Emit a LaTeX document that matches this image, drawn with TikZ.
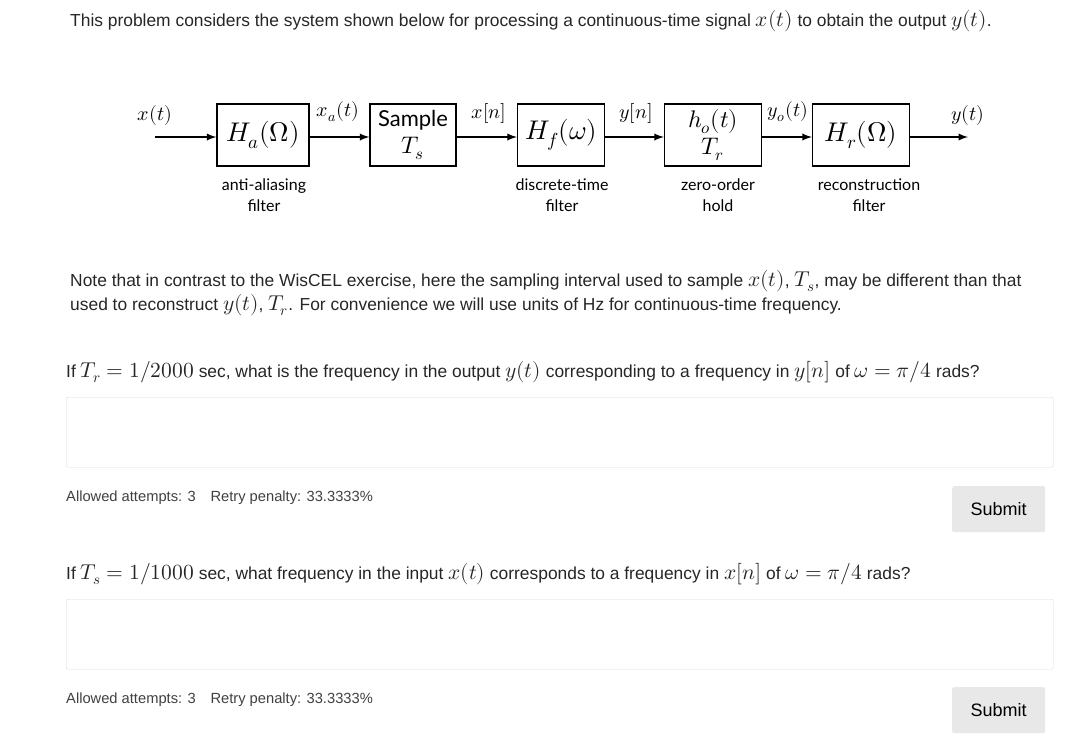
\documentclass[tikz,border=0pt]{standalone}
\usepackage{fontspec}
\usepackage{unicode-math}
\setmainfont{Liberation Sans}
\setmathfont{Latin Modern Math}
\newfontfamily\gill{Lato}
\newcommand\mt[1]{{\fontsize{21.5}{21.5}\selectfont$#1$}}
\begin{document}
\begin{tikzpicture}[x=1pt,y=-1pt,
  blk/.style={draw,line width=1.3pt,minimum width=92pt,minimum height=62pt,inner sep=0pt,font=\fontsize{27}{27}\selectfont},
  blk2/.style={draw,line width=1.3pt,minimum width=92pt,minimum height=62pt,inner sep=0pt,align=center,font=\fontsize{24}{24}\selectfont},
  sig/.style={font=\fontsize{20}{20}\selectfont},
  captxt/.style={font=\gill\fontsize{16}{21}\selectfont,align=center},
  arr/.style={-latex,line width=2.2pt},
  txt/.style={anchor=west,font=\fontsize{17.4}{20}\selectfont,text=black!85,inner sep=0pt},
  small/.style={anchor=west,font=\fontsize{14.7}{17}\selectfont,text=black!75,inner sep=0pt},
  ans/.style={draw=black!15,fill=white,rounded corners=2pt,minimum width=987pt,minimum height=70pt,anchor=north west},
  btn/.style={fill=black!9,rounded corners=2pt,minimum width=93pt,minimum height=46pt,font=\fontsize{18}{20}\selectfont,anchor=north west}]
\useasboundingbox (0,0) rectangle (1081,737);
\node[txt] (t1) at (70,21) {This problem considers the system shown below for processing a continuous-time signal \mt{x(t)} to obtain the output \mt{y(t)}.};
\coordinate (in) at (155,137);
\node[blk] (ha) at (263,135) {$H_a(\Omega)$};
\node[blk2,minimum width=86pt] (sa) at (413,135) {{\gill\fontsize{22}{22}\selectfont Sample}\\[3pt]$T_s$};
\node[blk,minimum width=87pt] (hf) at (561,135) {$H_f(\omega)$};
\node[blk2,minimum width=97pt] (ho) at (713,135) {$h_o(t)$\\[3pt]$T_r$};
\node[blk,minimum width=97pt] (hr) at (861,135) {$H_r(\Omega)$};
\coordinate (out) at (968,137);
\draw[arr] (in) -- (ha.west|-in);
\draw[arr] (ha.east|-in) -- (sa.west|-in);
\draw[arr] (sa.east|-in) -- (hf.west|-in);
\draw[arr] (hf.east|-in) -- (ho.west|-in);
\draw[arr] (ho.east|-in) -- (hr.west|-in);
\draw[arr] (hr.east|-in) -- (out);
\node[sig] (lx) at (155,115) {$x(t)$};
\node[sig] (lxa) at (338,112) {$x_a(t)$};
\node[sig] (lxn) at (489,113) {$x[n]$};
\node[sig] (lyn) at (636,113) {$y[n]$};
\node[sig] (lyo) at (788,112) {$y_o(t)$};
\node[sig] (ly) at (968,115) {$y(t)$};
\node[captxt] (c1) at (264,195) {anti-aliasing\\filter};
\node[captxt] (c2) at (562,195) {discrete-time\\filter};
\node[captxt] (c3) at (718,195) {zero-order\\hold};
\node[captxt] (c4) at (869,195) {reconstruction\\filter};
\node[txt] (t2) at (70,281) {Note that in contrast to the WisCEL exercise, here the sampling interval used to sample \mt{x(t)}, \mt{T_s}, may be different than that};
\node[txt] (t3) at (70,305) {used to reconstruct \mt{y(t)}, \mt{T_r}. For convenience we will use units of Hz for continuous-time frequency.};
\node[txt] (q1) at (66,372) {If \mt{T_r=1/2000} sec, what is the frequency in the output \mt{y(t)} corresponding to a frequency in \mt{y[n]} of \mt{\omega=\pi/4} rads?};
\node[ans] (a1) at (66,397) {};
\node[small] (m1) at (66,498) {Allowed attempts: 3\quad Retry penalty: 33.3333\%};
\node[btn] (b1) at (952,486) {Submit};
\node[txt] (q2) at (66,574) {If \mt{T_s=1/1000} sec, what frequency in the input \mt{x(t)} corresponds to a frequency in \mt{x[n]} of \mt{\omega=\pi/4} rads?};
\node[ans] (a2) at (66,599) {};
\node[small] (m2) at (66,700) {Allowed attempts: 3\quad Retry penalty: 33.3333\%};
\node[btn] (b2) at (952,687) {Submit};
\end{tikzpicture}
\end{document}
